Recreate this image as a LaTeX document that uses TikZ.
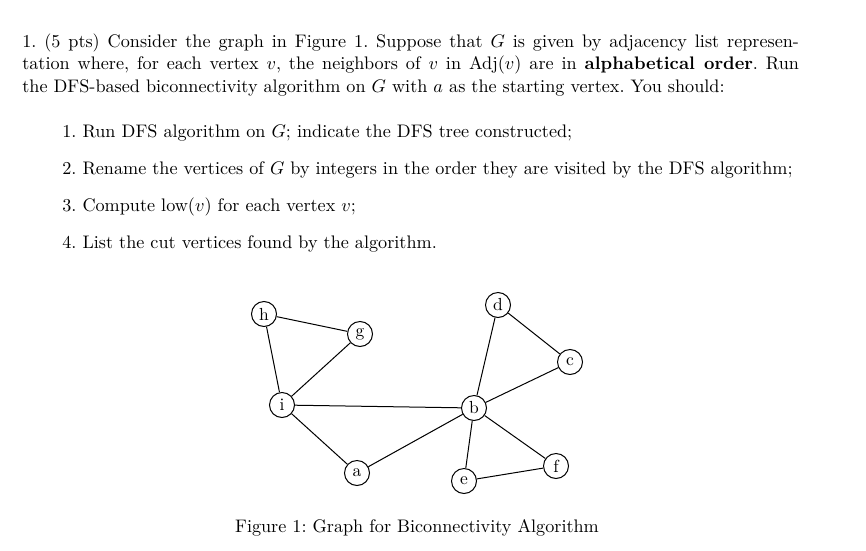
\documentclass[tikz,border=0pt]{standalone}
\begin{document}
\begin{tikzpicture}[x=0.6pt,y=-0.6pt,
  vtx/.style={draw,circle,minimum size=15pt,inner sep=0pt,line width=0.6pt,font=\fontsize{10.5}{12}\selectfont},
  edge/.style={line width=0.6pt},
  txt/.style={anchor=base west,inner sep=0pt,font=\fontsize{10.9}{13.5}\selectfont}]
\useasboundingbox (0,0) rectangle (866,550);
\frenchspacing
\node[txt,text width=466pt,align=justify] (p) at (22,47) {1. (5 pts) Consider the graph in Figure 1. Suppose that $G$ is given by adjacency list represen-\linebreak tation where, for each vertex $v$, the neighbors of $v$ in Adj$(v)$ are in \textbf{alphabetical order}. Run\linebreak the DFS-based biconnectivity algorithm on $G$ with $a$ as the starting vertex. You should:};
\node[txt] (l1) at (62,137) {1. Run DFS algorithm on $G$; indicate the DFS tree constructed;};
\node[txt] (l2) at (62,174) {2. Rename the vertices of $G$ by integers in the order they are visited by the DFS algorithm;};
\node[txt] (l3) at (62,211) {3. Compute low$(v)$ for each vertex $v$;};
\node[txt] (l4) at (62,248) {4. List the cut vertices found by the algorithm.};
\node[vtx] (h) at (264,314) {h};
\node[vtx] (g) at (360,334) {g};
\node[vtx] (d) at (498,305) {d};
\node[vtx] (c) at (570,362) {c};
\node[vtx] (i) at (282,405) {i};
\node[vtx] (b) at (474,408) {b};
\node[vtx] (a) at (357,473) {a};
\node[vtx] (e) at (464,481) {e};
\node[vtx] (f) at (556,466) {f};
\draw[edge] (h)--(g) (h)--(i) (g)--(i) (i)--(b) (i)--(a) (a)--(b) (b)--(d) (b)--(c) (b)--(e) (b)--(f) (e)--(f) (d)--(c);
\node[anchor=base,inner sep=0pt,font=\fontsize{10.9}{12}\selectfont] (cap) at (417,532) {Figure 1: Graph for Biconnectivity Algorithm};
\end{tikzpicture}
\end{document}
